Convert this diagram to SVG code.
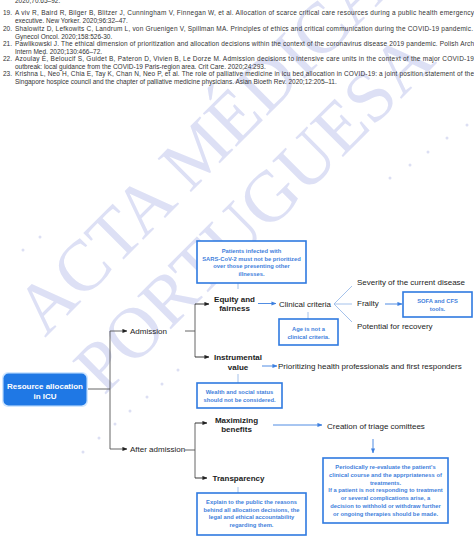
<svg xmlns="http://www.w3.org/2000/svg" width="474" height="538" viewBox="0 0 474 538">
<defs>
<style>
.ref{font-family:"Liberation Sans",Arial,sans-serif;font-size:6.5px;fill:#333}
.num{text-anchor:end}
.wm{font-family:"Liberation Serif","Times New Roman",serif;font-size:72px;fill:#dde0f5}
.lbl{font-family:"Liberation Sans",Arial,sans-serif;font-size:8px;fill:#1c1c1c}
.bold{font-weight:bold;text-anchor:middle}
.note{font-family:"Liberation Sans",Arial,sans-serif;font-size:5.8px;font-weight:bold;fill:#3f7fdc;text-anchor:middle}
.box{fill:#ffffff;stroke:#2f7ae0;stroke-width:1.6}
.tree{fill:none;stroke:#555;stroke-width:0.9}
.blk{fill:none;stroke:#222;stroke-width:0.9}
.blu{fill:none;stroke:#3d80e0;stroke-width:0.9}
.lt{fill:none;stroke:#9bbbe9;stroke-width:0.9}
.dot{fill:#dcdff3}
</style>
<marker id="ak" viewBox="0 0 6 6" refX="5.5" refY="3" markerWidth="5" markerHeight="5" orient="auto" markerUnits="userSpaceOnUse"><path d="M0,0.5 L6,3 L0,5.5 z" fill="#222"/></marker>
<marker id="ab" viewBox="0 0 6 6" refX="5.5" refY="3" markerWidth="5" markerHeight="5" orient="auto" markerUnits="userSpaceOnUse"><path d="M0,0.5 L6,3 L0,5.5 z" fill="#3d80e0"/></marker>
</defs>
<rect width="474" height="538" fill="#ffffff"/>

<g id="watermark">
<text class="wm" transform="translate(45,338) rotate(-45)">ACTA MÉDICA</text>
<text class="wm" transform="translate(104,396) rotate(-45)">PORTUGUESA</text>
<circle class="dot" cx="467" cy="125" r="1.5"/><circle class="dot" cx="447" cy="138" r="1.5"/>
<circle class="dot" cx="428" cy="152" r="1.5"/><circle class="dot" cx="410" cy="165" r="1.5"/>
<circle class="dot" cx="390" cy="178" r="1.5"/>
<circle class="dot" cx="178" cy="370" r="1.5"/><circle class="dot" cx="162" cy="384" r="1.5"/>
<circle class="dot" cx="147" cy="397" r="1.5"/><circle class="dot" cx="130" cy="411" r="1.5"/>
<circle class="dot" cx="115" cy="424" r="1.5"/><circle class="dot" cx="99" cy="438" r="1.5"/>
<circle class="dot" cx="83" cy="452" r="1.5"/>
<circle class="dot" cx="40" cy="237" r="1.5"/><circle class="dot" cx="23" cy="250" r="1.5"/>
</g>

<g id="references">
<text class="ref" x="15" y="3">2020;70:65–92.</text>
<text class="ref num" x="12" y="14.5">19.</text>
<text class="ref" x="15" y="14.5" textLength="459" lengthAdjust="spacing">A viv R, Baird R, Bilger B, Blitzer J, Cunningham V, Finnegan W, et al. Allocation of scarce critical care resources during a public health emergency</text>
<text class="ref" x="15" y="22.5">executive. New Yorker. 2020;96:32–47.</text>
<text class="ref num" x="12" y="30.5">20.</text>
<text class="ref" x="15" y="30.5" textLength="458" lengthAdjust="spacing">Shalowitz D, Lefkowits C, Landrum L, von Gruenigen V, Spillman MA. Principles of ethics and critical communication during the COVID-19 pandemic.</text>
<text class="ref" x="15" y="38.5">Gynecol Oncol. 2020;158:526-30.</text>
<text class="ref num" x="12" y="46">21.</text>
<text class="ref" x="15" y="46" textLength="459" lengthAdjust="spacing">Pawlikowski J. The ethical dimension of prioritization and allocation decisions within the context of the coronavirus disease 2019 pandemic. Polish Arch</text>
<text class="ref" x="15" y="53.5">Intern Med. 2020;130:466–72.</text>
<text class="ref num" x="12" y="61">22.</text>
<text class="ref" x="15" y="61" textLength="459" lengthAdjust="spacing">Azoulay É, Beloucif S, Guidet B,  Pateron D, Vivien B, Le Dorze M. Admission decisions to intensive care units in the context of the major COVID-19</text>
<text class="ref" x="15" y="68.5">outbreak: local guidance from the COVID-19 Paris-region area. Crit Care. 2020;24:293.</text>
<text class="ref num" x="12" y="76">23.</text>
<text class="ref" x="15" y="76" textLength="459" lengthAdjust="spacing">Krishna L, Neo H, Chia E, Tay K, Chan N, Neo P, et al. The role of palliative medicine in icu bed allocation in COVID-19: a joint position statement of the</text>
<text class="ref" x="15" y="83.5">Singapore hospice council and the chapter of palliative medicine physicians. Asian Bioeth Rev. 2020;12:205–11.</text>
</g>

<g id="connectors">
<path class="tree" d="M87,389 H110 M110,331 V449"/>
<path class="tree" d="M110,331 H127" marker-end="url(#ak)"/>
<path class="tree" d="M110,449 H127" marker-end="url(#ak)"/>
<path class="tree" d="M185,331 H195 M195,304 V357"/>
<path class="blk" d="M195,304 H209" marker-end="url(#ak)"/>
<path class="blk" d="M195,357 H209" marker-end="url(#ak)"/>
<path class="tree" d="M185,450 H195 M195,423 V478"/>
<path class="blk" d="M195,423 H207" marker-end="url(#ak)"/>
<path class="blk" d="M195,478 H207" marker-end="url(#ak)"/>
<path class="blu" d="M258,303.5 H276" marker-end="url(#ab)"/>
<path class="blu" d="M385,304 H402" marker-end="url(#ab)"/>
<path class="blu" d="M262,366 H277" marker-end="url(#ab)"/>
<path class="blu" d="M273,425 H322" marker-end="url(#ab)"/>
<path class="blu" d="M373,439 V453" marker-end="url(#ab)"/>
<path class="lt" d="M352,286 L334,304 L352,322 M334,304 H352"/>
<path class="lt" d="M238,283 V289 M308,312 V319 M238,374 V383 M238,487 V493"/>
</g>

<g id="n-root">
<rect x="2" y="372" width="86" height="35" rx="6" fill="#cfe6ff"/>
<rect x="3.5" y="373.5" width="83" height="32" rx="5" fill="#1f78e5"/>
<text class="lbl bold" x="45" y="388.5" style="fill:#fff">Resource allocation</text>
<text class="lbl bold" x="45" y="398.5" style="fill:#fff">in ICU</text>
</g>

<g id="n-admission"><text class="lbl" x="130" y="334">Admission</text></g>
<g id="n-after"><text class="lbl" x="130" y="452">After admission</text></g>

<g id="n-equity">
<text class="lbl bold" x="234.5" y="302">Equity and</text>
<text class="lbl bold" x="234.5" y="311">fairness</text>
</g>
<g id="n-instrumental">
<text class="lbl bold" x="238" y="360">Instrumental</text>
<text class="lbl bold" x="238" y="369.5">value</text>
</g>
<g id="n-maximizing">
<text class="lbl bold" x="236.5" y="422.5">Maximizing</text>
<text class="lbl bold" x="236.5" y="432">benefits</text>
</g>
<g id="n-transparency"><text class="lbl bold" x="238.5" y="481">Transparency</text></g>

<g id="n-clinical"><text class="lbl" x="279" y="306.5">Clinical criteria</text></g>
<g id="n-severity"><text class="lbl" x="357" y="285">Severity of the current disease</text></g>
<g id="n-frailty"><text class="lbl" x="357" y="306">Frailty</text></g>
<g id="n-potential"><text class="lbl" x="357" y="329">Potential for recovery</text></g>
<g id="n-prioritizing"><text class="lbl" x="278" y="369">Prioritizing health professionals and first responders</text></g>
<g id="n-triage"><text class="lbl" x="327" y="428.5">Creation of triage comittees</text></g>

<g id="n-note-sars">
<rect class="box" x="197" y="241" width="109" height="42"/>
<text class="note" x="251.5" y="253">Patients infected with</text>
<text class="note" x="251.5" y="260.5">SARS-CoV-2 must not be prioritized</text>
<text class="note" x="251.5" y="268">over those presenting other</text>
<text class="note" x="251.5" y="276">illnesses.</text>
</g>
<g id="n-note-age">
<rect class="box" x="279" y="319" width="59" height="26"/>
<text class="note" x="308.5" y="331">Age is not a</text>
<text class="note" x="308.5" y="339">clinical criteria.</text>
</g>
<g id="n-note-sofa">
<rect class="box" x="403" y="292" width="69" height="25"/>
<text class="note" x="437.5" y="303">SOFA and CFS</text>
<text class="note" x="437.5" y="311">tools.</text>
</g>
<g id="n-note-wealth">
<rect class="box" x="197" y="383" width="85" height="25"/>
<text class="note" x="239.5" y="394">Wealth and social status</text>
<text class="note" x="239.5" y="402">should not be considered.</text>
</g>
<g id="n-note-explain">
<rect class="box" x="197" y="493" width="109" height="42"/>
<text class="note" x="251.5" y="504">Explain to the public the reasons</text>
<text class="note" x="251.5" y="511.5">behind all allocation decisions, the</text>
<text class="note" x="251.5" y="519">legal and ethical accountability</text>
<text class="note" x="251.5" y="527">regarding them.</text>
</g>
<g id="n-note-periodic">
<rect class="box" x="323" y="458" width="125" height="65"/>
<text class="note" x="385.5" y="469">Periodically re-evaluate the patient's</text>
<text class="note" x="385.5" y="477">clinical course and the apprpriateness of</text>
<text class="note" x="385.5" y="484.5">treatments.</text>
<text class="note" x="385.5" y="492">If a patient is not responding to treatment</text>
<text class="note" x="385.5" y="500">or several complications arise, a</text>
<text class="note" x="385.5" y="508">decision to withhold or withdraw further</text>
<text class="note" x="385.5" y="516">or ongoing therapies should be made.</text>
</g>
</svg>
